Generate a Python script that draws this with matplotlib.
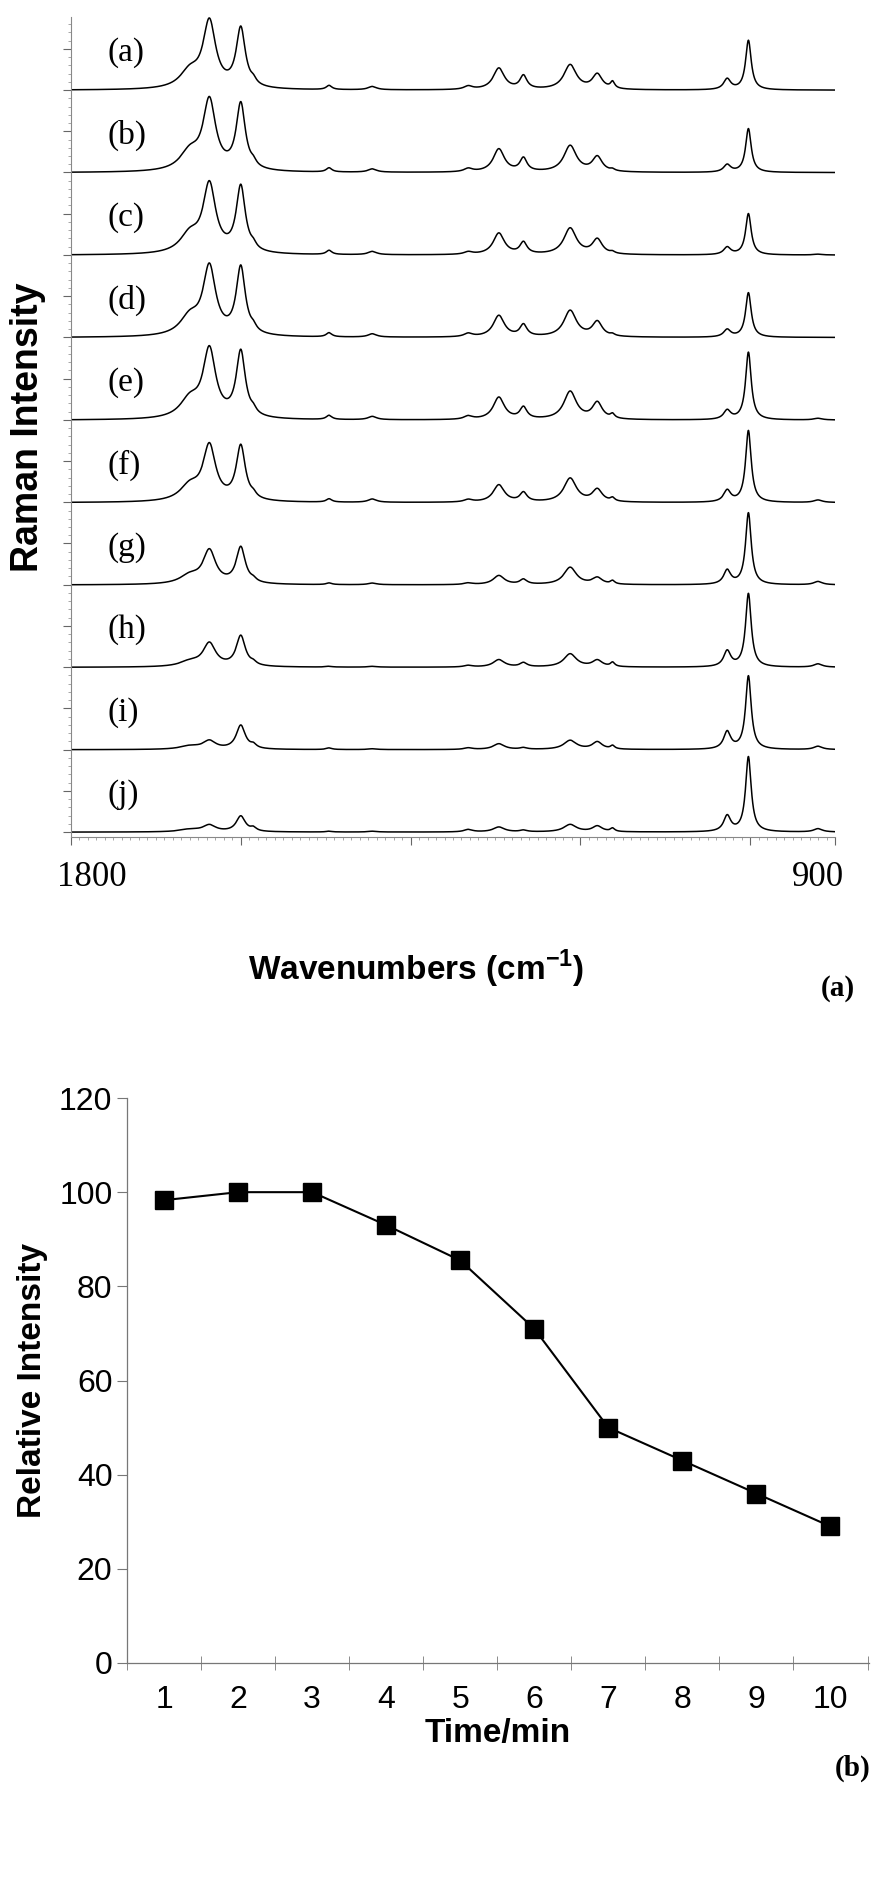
import matplotlib.pyplot as plt
import numpy as np
from matplotlib.ticker import MultipleLocator

# ---- spectra: peak centres (cm-1), half-widths, and amplitude per spectrum ----
labels = ['(a)', '(b)', '(c)', '(d)', '(e)', '(f)', '(g)', '(h)', '(i)', '(j)']
centres = [1660, 1637, 1600, 1585, 1496, 1445, 1332, 1296, 1267, 1212, 1180, 1162, 1027, 1002, 920]
widths = [14, 9, 6.5, 4, 4, 6, 6, 8, 5, 9, 7, 3, 5, 4, 6]
amps = {
    '(a)': [0.20, 0.80, 0.72, 0.05, 0.05, 0.04, 0.04, 0.26, 0.16, 0.30, 0.18, 0.08, 0.13, 0.60, 0.00],
    '(b)': [0.22, 0.84, 0.80, 0.05, 0.05, 0.04, 0.04, 0.28, 0.16, 0.32, 0.18, 0.02, 0.09, 0.53, 0.00],
    '(c)': [0.22, 0.82, 0.80, 0.05, 0.05, 0.04, 0.03, 0.26, 0.14, 0.32, 0.18, 0.02, 0.09, 0.50, 0.01],
    '(d)': [0.22, 0.82, 0.82, 0.05, 0.05, 0.04, 0.04, 0.26, 0.14, 0.32, 0.18, 0.02, 0.09, 0.54, 0.00],
    '(e)': [0.22, 0.82, 0.80, 0.05, 0.05, 0.04, 0.04, 0.27, 0.14, 0.34, 0.20, 0.05, 0.11, 0.82, 0.02],
    '(f)': [0.18, 0.66, 0.66, 0.04, 0.04, 0.04, 0.03, 0.21, 0.11, 0.29, 0.15, 0.04, 0.14, 0.87, 0.03],
    '(g)': [0.10, 0.40, 0.44, 0.03, 0.02, 0.02, 0.02, 0.11, 0.06, 0.21, 0.08, 0.04, 0.17, 0.87, 0.04],
    '(h)': [0.06, 0.28, 0.37, 0.03, 0.01, 0.01, 0.02, 0.09, 0.05, 0.16, 0.08, 0.05, 0.19, 0.89, 0.04],
    '(i)': [0.04, 0.10, 0.29, 0.04, 0.02, 0.01, 0.02, 0.07, 0.02, 0.11, 0.09, 0.04, 0.21, 0.89, 0.04],
    '(j)': [0.03, 0.08, 0.19, 0.04, 0.01, 0.01, 0.03, 0.06, 0.02, 0.09, 0.07, 0.04, 0.19, 0.91, 0.04],
}

# ---- time course ----
time_min = [1, 2, 3, 4, 5, 6, 7, 8, 9, 10]
rel_intensity = [98.3, 100, 100, 93, 85.5, 71, 50, 43, 36, 29]

W, H = 874, 1902
fig = plt.figure(figsize=(W / 100, H / 100), dpi=100)
plt.rcParams['font.family'] = 'Liberation Sans'
plt.rcParams['mathtext.fontset'] = 'custom'
plt.rcParams['mathtext.rm'] = 'Liberation Sans:bold'


def fx(px):
    return px / W


def fy(py):
    return 1 - py / H


serif = 'Liberation Serif'

# ---------------- panel (a) ----------------
ax1 = fig.add_axes([fx(71), fy(837), fx(835 - 71), (837 - 17) / H])
wn = np.linspace(900, 1800, 3000)
n = len(labels)
for i, lab in enumerate(labels):
    off = n - 1 - i
    y = np.zeros_like(wn)
    for c, w, a in zip(centres, widths, amps[lab]):
        y += a * w**2 / ((wn - c)**2 + w**2)
    y -= y.min()
    ax1.plot(wn, y + off, color='black', lw=1.1)
    ax1.text(1757, off + 0.45, lab, fontsize=24, family=serif, va='center', ha='left')
ax1.set_xlim(1800, 900)
ax1.set_ylim(-0.06, 9.886)
for s in ['top', 'right']:
    ax1.spines[s].set_visible(False)
for s in ['left', 'bottom']:
    ax1.spines[s].set_color('#888888')
    ax1.spines[s].set_linestyle((0, (2, 1)))
    ax1.spines[s].set_linewidth(0.8)
ax1.set_xticks([1800, 1600, 1400, 1200, 1000, 900])
ax1.xaxis.set_minor_locator(MultipleLocator(10))
ax1.yaxis.set_major_locator(MultipleLocator(0.5))
ax1.yaxis.set_minor_locator(MultipleLocator(0.1))
ax1.tick_params(axis='both', which='major', length=6, color='#666666', labelbottom=False, labelleft=False)
ax1.tick_params(axis='both', which='minor', length=2, color='#999999')
ax1.set_ylabel('Raman Intensity', fontsize=27, fontweight='bold', labelpad=12)
fig.text(fx(92), fy(878), '1800', fontsize=25, family=serif, ha='center', va='center')
fig.text(fx(818), fy(878), '900', fontsize=25, family=serif, ha='center', va='center')
fig.text(fx(416), fy(969), 'Wavenumbers (cm$^{-1}$)', fontsize=24, fontweight='bold',
         ha='center', va='center')
fig.text(fx(838), fy(988), '(a)', fontsize=21, family=serif, fontweight='bold', ha='center', va='center')

# ---------------- panel (b) ----------------
ax2 = fig.add_axes([fx(127), fy(1663), fx(869 - 127), (1663 - 1098) / H])
ax2.plot(time_min, rel_intensity, color='black', lw=1.5, marker='s', markersize=13)
ax2.set_xlim(0.52, 10.52)
ax2.set_ylim(0, 120)
ax2.set_xticks(time_min)
ax2.set_yticks(range(0, 121, 20))
ax2.set_xticks(np.arange(0.5, 10.6, 1), minor=True)
for s in ['top', 'right']:
    ax2.spines[s].set_visible(False)
for s in ['left', 'bottom']:
    ax2.spines[s].set_color('#777777')
    ax2.spines[s].set_linewidth(0.9)
ax2.tick_params(axis='x', which='major', length=0, labelsize=23, pad=16)
ax2.tick_params(axis='x', which='minor', length=10, direction='inout', color='#777777')
ax2.tick_params(axis='y', length=7, color='#777777', labelsize=23)
ax2.set_xlabel('Time/min', fontsize=24, fontweight='bold', labelpad=2)
ax2.set_ylabel('Relative Intensity', fontsize=24, fontweight='bold', labelpad=8)
fig.text(fx(853), fy(1768), '(b)', fontsize=21, family=serif, fontweight='bold', ha='center', va='center')

fig.savefig('out.png', dpi=100)
